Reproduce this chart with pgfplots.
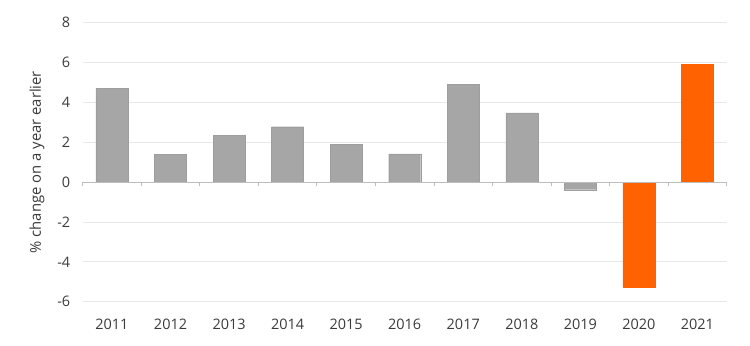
\documentclass[border=0pt]{standalone}
\usepackage{fontspec}
\setmainfont{Open Sans}
\usepackage{pgfplots}
\pgfplotsset{compat=1.18}
\definecolor{bargray}{HTML}{A6A6A6}
\definecolor{ingorange}{HTML}{FF6200}
\definecolor{gridgray}{HTML}{E8E8E8}
\definecolor{axisgray}{HTML}{BDBDBD}
\definecolor{txt}{HTML}{3A3A3A}
\begin{document}
\begin{tikzpicture}
\begin{axis}[
  at={(0,0)}, anchor=south west,
  scale only axis, width=644bp, height=279bp,
  xmin=-0.5, xmax=10.5, ymin=-6, ymax=8,
  ytick={-6,-4,...,8},
  xtick={0,...,10},
  xticklabels={2011,2012,2013,2014,2015,2016,2017,2018,2019,2020,2021},
  axis line style={draw=none},
  major tick length=0pt,
  ymajorgrids, grid style={gridgray, line width=0.8bp},
  ybar, bar width=32bp, bar shift=0pt,
  tick label style={font=\fontsize{14.5}{17}\selectfont, text=txt},
  /pgf/number format/assume math mode=true,
  yticklabel style={xshift=-9bp},
  xticklabel style={yshift=-14bp},
  ylabel={\% change on a year earlier},
  every axis y label/.style={at={(axis description cs:0,0.5)}, rotate=90, anchor=center, yshift=45.7bp, font=\fontsize{14.9}{17}\selectfont, text=txt},
  clip=false,
]
\addplot[fill=bargray, draw=bargray!95!black, line width=0.4bp] coordinates {
(0,4.70) (1,1.40) (2,2.36) (3,2.78) (4,1.88) (5,1.42) (6,4.89) (7,3.48) (8,-0.38)};
\addplot[fill=ingorange, draw=ingorange, line width=0.4bp] coordinates {
(9,-5.25) (10,5.91)};
\draw[axisgray, line width=0.8bp] (axis cs:-0.5,0) -- (axis cs:10.5,0);
\pgfplotsinvokeforeach{-0.5,0.5,1.5,2.5,3.5,4.5,5.5,6.5,7.5,8.5,9.5,10.5}{
  \draw[axisgray, line width=0.8bp] (axis cs:#1,0) -- ([yshift=-4bp]axis cs:#1,0);
}
\end{axis}
\pgfresetboundingbox
\path (-82.7bp,-44.3bp) rectangle (667.3bp,301.7bp);
\end{tikzpicture}
\end{document}
